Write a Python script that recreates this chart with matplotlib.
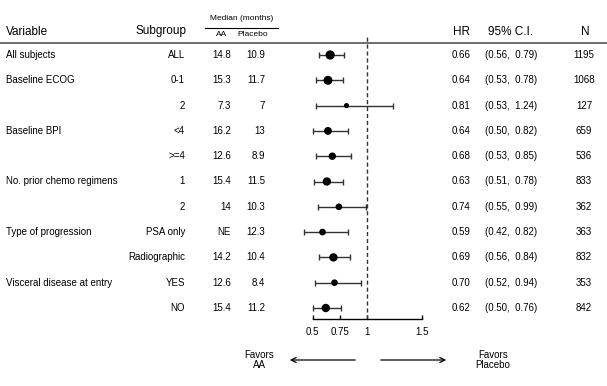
import numpy as np
import matplotlib.pyplot as plt

plt.rcParams['font.family'] = ['Liberation Sans', 'DejaVu Sans']

# table data (one entry per row, top to bottom)
variables = ["All subjects", "Baseline ECOG", "", "Baseline BPI", "",
             "No. prior chemo regimens", "", "Type of progression", "",
             "Visceral disease at entry", ""]
subgroups = ["ALL", "0-1", "2", "<4", ">=4", "1", "2", "PSA only",
             "Radiographic", "YES", "NO"]
median_aa = ["14.8", "15.3", "7.3", "16.2", "12.6", "15.4", "14", "NE",
             "14.2", "12.6", "15.4"]
median_placebo = ["10.9", "11.7", "7", "13", "8.9", "11.5", "10.3", "12.3",
                  "10.4", "8.4", "11.2"]
hr = [0.66, 0.64, 0.81, 0.64, 0.68, 0.63, 0.74, 0.59, 0.69, 0.70, 0.62]
ci_low = [0.56, 0.53, 0.53, 0.50, 0.53, 0.51, 0.55, 0.42, 0.56, 0.52, 0.50]
ci_high = [0.79, 0.78, 1.24, 0.82, 0.85, 0.78, 0.99, 0.82, 0.84, 0.94, 0.76]
n_pts = [1195, 1068, 127, 659, 536, 833, 362, 363, 832, 353, 842]
xticks = [0.5, 0.75, 1, 1.5]
xtick_labels = ["0.5", "0.75", "1", "1.5"]

W, H = 607, 386
ROW0, ROWH = 55, 25.3


def row_of(ypx):
    return (ypx - ROW0) / ROWH


rows = np.arange(len(subgroups))
ylim = (row_of(H), row_of(0))

fig = plt.figure(figsize=(W / 100, H / 100), dpi=100)
fig.patch.set_facecolor("white")

# text table laid out in pixel x / row-index y
tab = fig.add_axes([0, 0, 1, 1])
tab.set_xlim(0, W)
tab.set_ylim(*ylim)
tab.axis("off")

fs = 7
hfs = 8.5
tab.text(6, row_of(32), "Variable", fontsize=hfs, ha="left", va="center")
tab.text(186, row_of(31), "Subgroup", fontsize=hfs, ha="right", va="center")
tab.text(242, row_of(19), "Median (months)", fontsize=6, ha="center", va="center")
tab.plot([205, 278], [row_of(28), row_of(28)], color="black", lw=0.8)
tab.text(222, row_of(34), "AA", fontsize=6, ha="center", va="center")
tab.text(253, row_of(34), "Placebo", fontsize=6, ha="center", va="center")
tab.text(462, row_of(32), "HR", fontsize=hfs, ha="center", va="center")
tab.text(511, row_of(32), "95% C.I.", fontsize=hfs, ha="center", va="center")
tab.text(585, row_of(32), "N", fontsize=hfs, ha="center", va="center")
tab.plot([0, W], [row_of(43), row_of(43)], color="#555555", lw=1.2)

for i in rows:
    tab.text(6, i, variables[i], fontsize=fs, ha="left", va="center")
    tab.text(185, i, subgroups[i], fontsize=fs, ha="right", va="center")
    tab.text(231, i, median_aa[i], fontsize=fs, ha="right", va="center")
    tab.text(265, i, median_placebo[i], fontsize=fs, ha="right", va="center")
    tab.text(461, i, f"{hr[i]:.2f}", fontsize=fs, ha="center", va="center")
    tab.text(485, i, f"({ci_low[i]:.2f},  {ci_high[i]:.2f})", fontsize=fs,
             ha="left", va="center")
    tab.text(584, i, str(n_pts[i]), fontsize=fs, ha="center", va="center")

# favours arrows
tab.annotate("", xy=(287, row_of(360)), xytext=(358, row_of(360)),
             arrowprops=dict(arrowstyle="->", lw=0.9, color="black",
                             mutation_scale=9))
tab.annotate("", xy=(449, row_of(360)), xytext=(378, row_of(360)),
             arrowprops=dict(arrowstyle="->", lw=0.9, color="black",
                             mutation_scale=9))
tab.text(259, row_of(360), "Favors\nAA", fontsize=fs, ha="center",
         va="center", linespacing=1.0)
tab.text(493, row_of(360), "Favors\nPlacebo", fontsize=fs, ha="center",
         va="center", linespacing=1.0)

# forest plot
x0, x1 = 312.7, 421.7
fa = fig.add_axes([x0 / W, 0, (x1 - x0) / W, 1])
fa.set_xlim(0.5, 1.5)
fa.set_ylim(*ylim)
fa.patch.set_alpha(0)
for s in ["left", "right", "top"]:
    fa.spines[s].set_visible(False)
fa.spines["bottom"].set_position(("data", row_of(319)))
fa.spines["bottom"].set_linewidth(1)
fa.set_yticks([])
fa.set_xticks(xticks)
fa.set_xticklabels(xtick_labels)
fa.tick_params(axis="x", direction="in", length=3, width=1, labelsize=fs, pad=6)

fa.vlines(1, row_of(319), row_of(35), colors="#333333", linestyles=(0, (3, 2)),
          lw=1)

hr_a = np.array(hr)
err = [hr_a - np.array(ci_low), np.array(ci_high) - hr_a]
fa.errorbar(hr_a, rows, xerr=err, fmt="none", ecolor="#333333",
            elinewidth=1, capsize=2.4, capthick=1)
diam_px = 0.74 * np.cbrt(np.array(n_pts))
fa.scatter(hr_a, rows, s=(diam_px * 0.72) ** 2, color="black", zorder=3)
for art in fa.get_children():
    try:
        art.set_clip_on(False)
    except Exception:
        pass

fig.savefig("out.png", dpi=100, facecolor="white")
